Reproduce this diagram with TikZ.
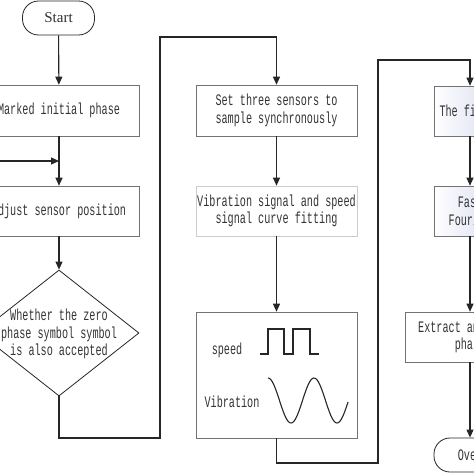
\documentclass[tikz,border=0pt]{standalone}
\usepackage{fontspec}
\usetikzlibrary{arrows.meta, shapes.geometric}
\newfontfamily\simfont[FakeStretch=0.635]{Liberation Mono}
\newfontfamily\serfont{Liberation Serif}

\begin{document}
\begin{tikzpicture}[x=1pt, y=-1pt,
    every node/.style={text=black!80, font=\simfont\fontsize{16}{17.5}\selectfont},
    box/.style={draw=black!55, line width=0.6pt, rectangle, align=center,
      minimum width=160pt, minimum height=50pt, inner sep=0pt},
    bluebox/.style={box, minimum width=72pt,
      left color=white, right color={rgb,255:red,212;green,216;blue,238}},
    term/.style={draw=black!85, line width=0.8pt, rounded corners=16pt,
      minimum width=72pt, minimum height=34pt, inner sep=0pt},
    arr/.style={line width=1.1pt, draw=black!85, -{Triangle[length=8pt, width=7pt]}},
    wire/.style={line width=1.1pt, draw=black!85}]
    \useasboundingbox (0,0) rectangle (474,474);
    \clip (0,0) rectangle (474,474);
    \fill[white] (0,0) rectangle (474,474);

    % Left column
    \node[term, font=\serfont\fontsize{15}{17}\selectfont] (start) at (58.5,18) {Start};
    \node[box, minimum height=51pt] (mark) at (59,110.5) {Marked initial phase};
    \node[box] (adjust) at (59,211) {Adjust sensor position};
    \node[diamond, draw=black!85, line width=0.8pt, minimum width=160pt,
      minimum height=126pt, inner sep=0pt] (judge) at (59,333) {};
    \node[align=center] (judgetext) at (59,334) {Whether the zero\\phase symbol symbol\\is also accepted};
    \coordinate (loopin) at (0,161);

    % Middle column
    \node[box, minimum width=161pt, minimum height=51pt] (sync) at (276.5,110.5) {Set three sensors to\\sample synchronously};
    \node[box, draw=black!20, minimum width=161pt] (fit) at (276.5,211) {Vibration signal and speed\\signal curve fitting};
    \node[box, minimum width=161pt, minimum height=126pt] (wave) at (276.5,375) {};
    \node (speedlabel) at (227,350) {speed};
    \node (vibrlabel) at (232,402) {Vibration};

    % Right column
    \node[bluebox] (first) at (470,111) {The filter};
    \node[bluebox] (fft) at (470,211) {Fast\\Fourier};
    \node[box, minimum width=130pt] (extract) at (470,337) {Extract amplitude\\phase};
    \node[term] (over) at (470,455) {Over};

    % Turning points of the long connectors
    \coordinate (jog1) at (160,438);
    \coordinate (jog2) at (160,37);
    \coordinate (jog3) at (378,463);
    \coordinate (jog4) at (378,60);

    % Connectors
    \draw[arr] (start) -- (mark);
    \draw[arr] (mark) -- (adjust);
    \draw[arr] (loopin) -- (loopin -| adjust.north);
    \draw[arr] (adjust) -- (judge.north);
    \draw[arr] (judge.south) |- (jog1) -- (jog2) -| (sync.north);
    \draw[arr] (sync) -- (fit);
    \draw[arr] (fit) -- (wave);
    \draw[arr] (wave.south) |- (jog3) -- (jog4) -| (first.north);
    \draw[arr] (first) -- (fft);
    \draw[arr] (fft) -- (extract);
    \draw[arr] (extract) -- (over);

    % Signals inside the box
    \draw[wire] (260,354) -- (268,354) -- (268,329) -- (284,329) -- (284,354)
      -- (293,354) -- (293,329) -- (310,329) -- (310,354) -- (319,354);
    \draw[wire, domain=268:348, samples=80, smooth]
      plot (\x, {400.5-22.5*cos((\x-268)/46*360)});
\end{tikzpicture}
\end{document}
